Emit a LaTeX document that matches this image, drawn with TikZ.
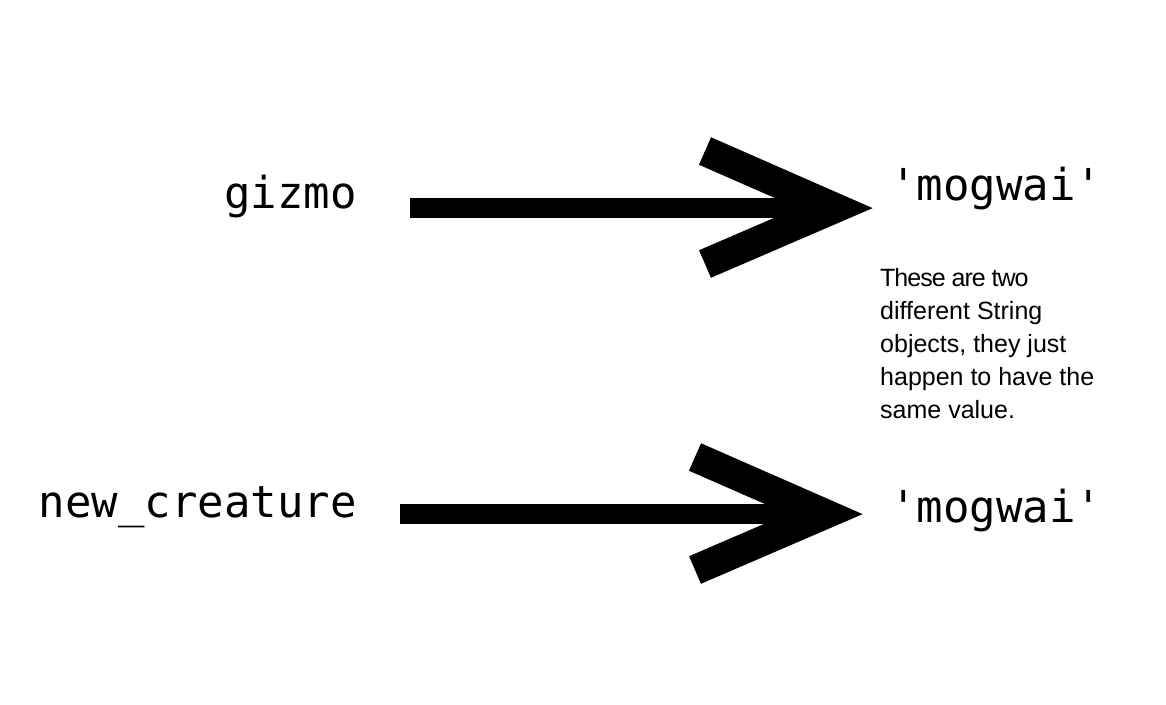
\documentclass[tikz,border=0pt]{standalone}
\usepackage{fontspec}
\setmonofont{DejaVu Sans Mono}
\setsansfont{Liberation Sans}
\begin{document}
\begin{tikzpicture}[x=1pt,y=-1pt,
  code/.style={font=\ttfamily\fontsize{44}{50}\selectfont, inner sep=0pt},
  shaft/.style={line width=20pt},
  head/.style={line width=30pt, line join=miter, miter limit=10}]
\useasboundingbox (0,0) rectangle (1166,704);
\node[code, anchor=mid east] (g) at (357,206) {gizmo};
\node[code, anchor=mid west] (m1) at (890,198) {'mogwai'};
\node[code, anchor=mid east] (n) at (357,515) {new\_creature};
\node[code, anchor=mid west] (m2) at (890,520) {'mogwai'};
\coordinate (t1) at (830,208);
\coordinate (t2) at (820,514);
\draw[shaft] (410,208) -- (t1);
\draw[head] (705,151) -- (835,208) -- (705,264);
\draw[shaft] (400,514) -- (t2);
\draw[head] (695,457) -- (825,514) -- (695,570);
\node[anchor=north west, inner sep=0pt, align=left,
  font=\sffamily\fontsize{25}{33}\selectfont] (note) at (880,268)
  {\addfontfeature{LetterSpace=-4}These are two\\different String\\objects, they just\\happen to have the\\same value.};
\end{tikzpicture}
\end{document}
